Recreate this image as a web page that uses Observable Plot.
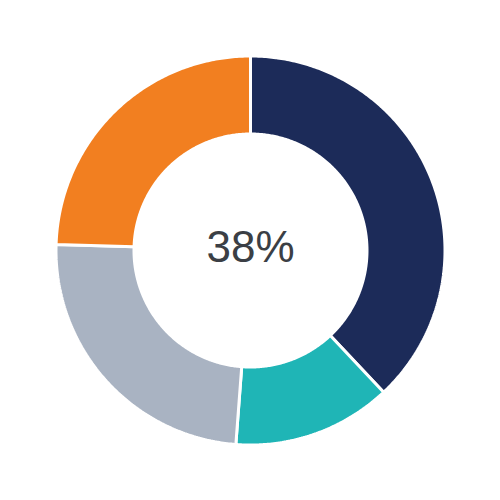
<!DOCTYPE html>
<html>
<head>
<meta charset="utf-8">
<script src="https://cdn.jsdelivr.net/npm/d3@7"></script>
<script src="https://cdn.jsdelivr.net/npm/@observablehq/plot@0.6"></script>
<style>
  html, body { margin: 0; padding: 0; background: #ffffff; }
  #chart { width: 500px; height: 500px; }
</style>
</head>
<body>
<div id="chart"></div>
<script>
// Data
const categories = ["A", "B", "C", "D"];
const values = [38, 13.2, 24.3, 24.5];
const colors = ["#1c2b59", "#1fb5b6", "#a9b3c2", "#f27f20"];
const centerLabel = "38%";

// Geometry (data units == pixels around the centre)
const R_OUTER = 194.5, R_INNER = 116.5;

const pie = d3.pie().sort(null).value(d => d.value)(
  categories.map((c, i) => ({category: c, value: values[i]}))
);

const pts = [];
for (const s of pie) {
  const n = Math.max(8, Math.ceil((s.endAngle - s.startAngle) / 0.01));
  const ring = [];
  for (let k = 0; k <= n; k++) {
    const a = s.startAngle + (s.endAngle - s.startAngle) * k / n;
    ring.push([R_OUTER * Math.sin(a), R_OUTER * Math.cos(a)]);
  }
  for (let k = n; k >= 0; k--) {
    const a = s.startAngle + (s.endAngle - s.startAngle) * k / n;
    ring.push([R_INNER * Math.sin(a), R_INNER * Math.cos(a)]);
  }
  ring.push(ring[0]);
  for (const [x, y] of ring) pts.push({category: s.data.category, x, y});
}

const chart = Plot.plot({
  width: 500,
  height: 500,
  margin: 0,
  x: {domain: [-250, 250], axis: null},
  y: {domain: [-250, 250], axis: null},
  color: {domain: categories, range: colors},
  style: {background: "#ffffff"},
  marks: [
    Plot.line(pts, {
      x: "x", y: "y", z: "category",
      fill: "category",
      stroke: "#ffffff",
      strokeWidth: 3,
      strokeLinejoin: "miter",
      curve: "linear"
    }),
    Plot.text([centerLabel], {
      x: () => 0, y: () => 0,
      text: d => d,
      fontSize: 44,
      fontFamily: "Liberation Sans, Arial, sans-serif",
      fill: "#3b3f45",
      textAnchor: "middle",
      lineAnchor: "middle",
      dy: -3
    })
  ]
});
document.getElementById("chart").appendChild(chart);
</script>
</body>
</html>
